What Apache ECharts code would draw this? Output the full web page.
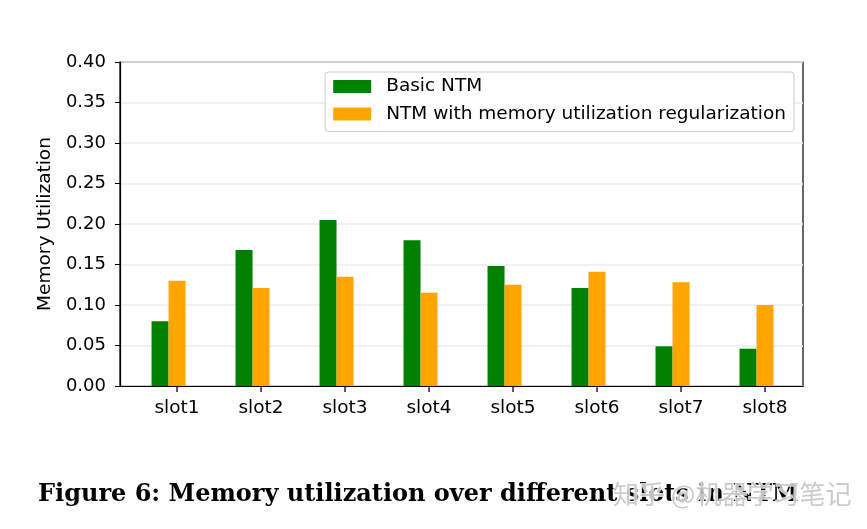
<!DOCTYPE html>
<html>
<head>
<meta charset="utf-8">
<script src="https://cdn.jsdelivr.net/npm/echarts@6/dist/echarts.min.js"></script>
<style>
html,body{margin:0;padding:0;background:#fff;}
#chart{width:867px;height:529px;}
</style>
</head>
<body>
<div id="chart"></div>
<script>
const categories = ['slot1','slot2','slot3','slot4','slot5','slot6','slot7','slot8'];
const basicNTM = [0.080, 0.168, 0.205, 0.180, 0.148, 0.121, 0.049, 0.046];
const regNTM = [0.130, 0.121, 0.135, 0.115, 0.125, 0.141, 0.128, 0.100];
const seriesNames = ['Basic NTM', 'NTM with memory utilization regularization'];
const captionText = 'Figure 6: Memory utilization over different slots in NTM';
const watermarkText = '知乎 @机器学习笔记';

// layout/style constants
const BAR_W = 17;
const TICK_LEN = 6;
const slotIdx = categories.map((c, i) => i);

function makeRender(offsetBars, withTick) {
  return function (params, api) {
    const x = api.value(0), y = api.value(1);
    const top = api.coord([x, y]);
    const base = api.coord([x, 0]);
    const left = top[0] + offsetBars * BAR_W - BAR_W / 2;
    const children = [{
      type: 'rect',
      shape: { x: left, y: top[1], width: BAR_W, height: base[1] - top[1] },
      style: { fill: api.visual('color') }
    }];
    if (withTick) {
      children.push({
        type: 'rect',
        shape: { x: base[0] - 0.65, y: base[1], width: 1.3, height: TICK_LEN },
        style: { fill: '#000' }
      });
    }
    return { type: 'group', children: children };
  };
}

const chart = echarts.init(document.getElementById('chart'), null, { renderer: 'canvas' });
const font = 'DejaVu Sans';

chart.setOption({
  animation: false,
  backgroundColor: '#fff',
  textStyle: { fontFamily: font },
  grid: {
    left: 120, right: 64, top: 62, bottom: 143,
    show: true, borderColor: '#000', borderWidth: 1.2, backgroundColor: 'transparent'
  },
  legend: {
    data: seriesNames.map(n => ({ name: n, icon: 'rect' })),
    orient: 'vertical',
    right: 73, top: 72,
    itemWidth: 38, itemHeight: 13, itemGap: 8.5,
    padding: [5, 8, 8, 8],
    borderColor: '#cccccc', borderWidth: 1, borderRadius: 3,
    backgroundColor: '#fff',
    textStyle: { fontFamily: font, fontSize: 18.5, color: '#000', padding: [0, 0, 0, 10] }
  },
  xAxis: {
    type: 'value',
    min: -0.679, max: 7.452,
    axisLine: { show: true, onZero: false, lineStyle: { color: '#000', width: 1.2 } },
    axisTick: { show: false },
    axisLabel: {
      customValues: slotIdx,
      formatter: v => categories[Math.round(v)] || '',
      fontFamily: font, fontSize: 18.5, color: '#000', margin: 13
    },
    splitLine: { show: false }
  },
  yAxis: {
    type: 'value',
    min: 0, max: 0.4, interval: 0.05,
    name: 'Memory Utilization',
    nameLocation: 'middle', nameGap: 58,
    nameTextStyle: { fontFamily: font, fontSize: 18.5, color: '#000' },
    axisLine: { show: true, onZero: false, lineStyle: { color: '#000', width: 1.2 } },
    axisTick: { show: true, length: 5, lineStyle: { color: '#000' } },
    axisLabel: { formatter: v => v.toFixed(2), fontFamily: font, fontSize: 18, color: '#000', margin: 14 },
    splitLine: { show: true, lineStyle: { color: '#ececec', width: 1.5 } }
  },
  series: [
    {
      name: seriesNames[0], type: 'custom',
      itemStyle: { color: '#008000' },
      encode: { x: 0, y: 1 },
      renderItem: makeRender(-1, false),
      data: basicNTM.map((v, i) => [slotIdx[i], v]),
      clip: false,
      z: 3
    },
    {
      name: seriesNames[1], type: 'custom',
      itemStyle: { color: '#FFA500' },
      encode: { x: 0, y: 1 },
      renderItem: makeRender(0, true),
      data: regNTM.map((v, i) => [slotIdx[i], v]),
      clip: false,
      z: 3
    }
  ],
  graphic: [
    {
      type: 'text', left: 38, top: 483, z: 10,
      style: { text: captionText, font: 'bold 24px "DejaVu Serif", serif', fill: '#000' }
    },
    {
      type: 'text', left: 612, top: 480, z: 11,
      style: {
        text: watermarkText,
        font: '26px "Noto Sans CJK SC", sans-serif',
        fill: 'rgba(190,190,190,0.8)',
        stroke: 'rgba(255,255,255,0.8)', lineWidth: 2
      }
    }
  ]
});
</script>
</body>
</html>
